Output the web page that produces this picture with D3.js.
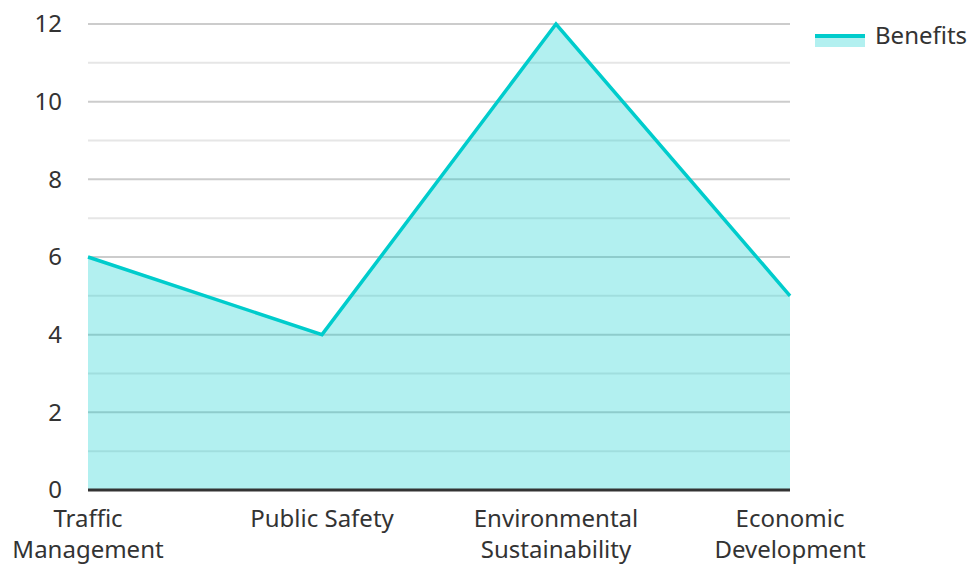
<!DOCTYPE html>
<html><head><meta charset="utf-8">
<script src="https://cdn.jsdelivr.net/npm/d3@7/dist/d3.min.js"></script>
<style>body{margin:0;background:#fff}text{font-family:"Noto Sans","Open Sans",sans-serif;fill:#333}</style>
</head><body><svg id="c" width="972" height="566"></svg>
<script>
const categories = [["Traffic","Management"],["Public Safety"],["Environmental","Sustainability"],["Economic","Development"]];
const values = [6, 4, 12, 5];
const seriesName = "Benefits";
const yTicks = [0,2,4,6,8,10,12];
const yMinor = [1,3,5,7,9,11];

const svg = d3.select("#c");
const x = d3.scalePoint().domain(d3.range(categories.length)).range([88, 790]);
const y = d3.scaleLinear().domain([0, 12]).range([490, 24]);

svg.append("g").selectAll("line").data(yMinor).join("line")
  .attr("x1",88).attr("x2",790).attr("y1",d=>y(d)).attr("y2",d=>y(d))
  .attr("stroke","#e6e6e6").attr("stroke-width",2);
svg.append("g").selectAll("line").data(yTicks.filter(d=>d>0)).join("line")
  .attr("x1",88).attr("x2",790).attr("y1",d=>y(d)).attr("y2",d=>y(d))
  .attr("stroke","#ccc").attr("stroke-width",2);

const area = d3.area().x((d,i)=>x(i)).y0(y(0)).y1(d=>y(d));
const line = d3.line().x((d,i)=>x(i)).y(d=>y(d));
svg.append("path").datum(values).attr("d",area).attr("fill","rgba(0,204,204,0.3)");
svg.append("path").datum(values).attr("d",line).attr("fill","none")
  .attr("stroke","#00cccc").attr("stroke-width",3.5).attr("stroke-linejoin","miter");

svg.append("line").attr("x1",88).attr("x2",790).attr("y1",y(0)).attr("y2",y(0))
  .attr("stroke","#333").attr("stroke-width",3);

svg.append("g").selectAll("text").data(yTicks).join("text")
  .attr("x",62).attr("y",d=>y(d)).attr("dy","0.35em").attr("text-anchor","end")
  .attr("font-size",24).text(d=>d);

const xl = svg.append("g").selectAll("text").data(categories).join("text")
  .attr("text-anchor","middle").attr("font-size",24).attr("transform",(d,i)=>`translate(${x(i)},527)`);
xl.selectAll("tspan").data(d=>d).join("tspan").attr("x",0).attr("dy",(d,i)=>i?"1.3em":0).text(d=>d);

const lg = svg.append("g");
lg.append("rect").attr("x",815).attr("y",36).attr("width",50).attr("height",11).attr("fill","rgba(0,204,204,0.3)");
lg.append("line").attr("x1",815).attr("x2",865).attr("y1",36).attr("y2",36).attr("stroke","#00cccc").attr("stroke-width",4);
lg.append("text").attr("x",875).attr("y",36).attr("dy","0.35em").attr("font-size",24).text(seriesName);
</script></body></html>
